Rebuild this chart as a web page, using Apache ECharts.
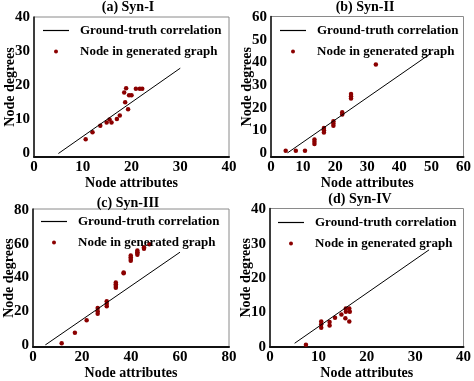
<!DOCTYPE html>
<html><head><meta charset="utf-8">
<script src="https://cdn.jsdelivr.net/npm/echarts@6/dist/echarts.min.js"></script>
<style>html,body{margin:0;padding:0;background:#fff}#c{width:474px;height:381px}</style>
</head><body><div id="c"></div>
<script>
// ---- data ----
const panelTitles = ['(a) Syn-I', '(b) Syn-II', '(c) Syn-III', '(d) Syn-IV'];
const axisMax = [40, 60, 80, 40];
const tickStep = [10, 10, 20, 10];
const lineName = 'Ground-truth correlation';
const dotName = 'Node in generated graph';
const xName = 'Node attributes';
const yName = 'Node degrees';

const synILine = [[5, 0], [30, 25]];
const synIPoints = [[10.6,4.2],[12.0,6.2],[13.6,8.1],[14.9,9.1],[15.5,10.0],[15.9,9.1],[17.0,10.1],[17.6,11.1],
  [18.7,15.0],[19.3,13.0],[18.5,17.9],[18.9,19.1],[19.5,17.1],[20.0,17.1],[20.9,19.0],[21.7,19.0],[22.2,19.0]];

const synIILine = [[5, 0], [49, 44]];
const synIIPoints = [[4.5,1],[7.6,1],[10.4,1],[13.3,4],[13.3,5],[13.3,6],[16.2,9],[16.2,10],[16.2,11],
  [19.1,12],[19.1,13],[19.1,14],[21.8,17],[21.8,18],[24.5,24],[24.5,25],[24.5,26],[32.1,39]];

const synIIILine = [[5, 0], [60, 55]];
const synIIIPoints = [[11.7,1],[17.1,7.3],[21.9,14.6],[26.4,18.5],[26.4,20],[26.4,22],[30.1,23],[30.1,24.5],[30.1,26],
  [33.8,34],[33.8,35],[33.8,36],[33.8,37],[37.0,42.5],[37.0,43],[39.9,50],[39.9,51],[39.9,52],[39.9,53],
  [42.6,53.5],[42.6,54.5],[42.6,55],[42.6,56],[45.3,57],[45.3,58],[47.5,59.7]];

const synIVLine = [[5, 1], [32.3, 28.2]];
const synIVPoints = [[7.3,0.6],[10.4,5.5],[10.4,6.5],[10.4,7.3],[12.1,6.2],[12.1,7.2],[13.2,8.4],[14.5,9.4],
  [15.3,8.3],[15.4,10.2],[15.4,11.1],[16.1,11.1],[16.2,10.2],[16.1,7.3]];

const lines = [synILine, synIILine, synIIILine, synIVLine];
const points = [synIPoints, synIIPoints, synIIIPoints, synIVPoints];

// ---- layout (pixels) ----
const frames = [
  {l: 34, t: 17, r: 229, b: 157, yTop: 17, yZero: 153.5},
  {l: 271, t: 16.5, r: 467, b: 157, yTop: 17, yZero: 153},
  {l: 33, t: 209, r: 229, b: 349, yTop: 210, yZero: 345},
  {l: 270, t: 208.5, r: 467, b: 349, yTop: 209.3, yZero: 346.7}
];
const titlePos = [[128, 0], [365, 0], [128, 196], [360, 192]];
const legendPos = [[43, 24], [280, 24], [41, 215], [278, 216]];

const FONT = "'Liberation Serif', 'Times New Roman', serif";
const txt = (size) => ({fontFamily: FONT, fontWeight: 'bold', fontSize: size, color: '#000'});

const grid = [], xAxis = [], yAxis = [], series = [], title = [], legend = [];
frames.forEach((f, i) => {
  // frame grid
  grid.push({left: f.l, top: f.t, width: f.r - f.l, height: f.b - f.t, show: true,
    borderColor: '#8a8a8a', borderWidth: 1, backgroundColor: 'transparent'});
  // data grid
  grid.push({left: f.l, top: f.yTop, width: f.r - f.l, height: f.yZero - f.yTop});
  xAxis.push({gridIndex: 2*i, type: 'value', min: 0, max: axisMax[i], interval: tickStep[i],
    axisLine: {show: true, lineStyle: {color: '#111', width: 2}}, axisTick: {show: false},
    splitLine: {show: false},
    axisLabel: Object.assign({margin: 3}, txt(15)),
    name: xName, nameLocation: 'middle', nameGap: 16, nameTextStyle: txt(14)});
  xAxis.push({gridIndex: 2*i+1, type: 'value', min: 0, max: axisMax[i], show: false});
  yAxis.push({gridIndex: 2*i, type: 'value', min: 0, max: 1,
    axisLine: {show: true, lineStyle: {color: '#111', width: 1.5}}, axisTick: {show: false},
    splitLine: {show: false}, axisLabel: {show: false},
    name: yName, nameLocation: 'middle', nameGap: 17, nameTextStyle: txt(14)});
  yAxis.push({gridIndex: 2*i+1, type: 'value', min: 0, max: axisMax[i], interval: tickStep[i],
    axisLine: {show: false}, axisTick: {show: false}, splitLine: {show: false},
    axisLabel: Object.assign({margin: 4}, txt(15))});
  series.push({type: 'line', name: lineName, xAxisIndex: 2*i+1, yAxisIndex: 2*i+1,
    data: lines[i], symbol: 'none', lineStyle: {color: '#000', width: 1}, itemStyle: {color: '#000'}, silent: true});
  series.push({type: 'scatter', name: dotName, xAxisIndex: 2*i+1, yAxisIndex: 2*i+1,
    data: points[i], symbolSize: 4.5, itemStyle: {color: '#8b0000', opacity: 1}});
  title.push({text: panelTitles[i], left: titlePos[i][0], top: titlePos[i][1], textAlign: 'center', padding: 0,
    textStyle: txt(14)});
  legend.push({orient: 'vertical', left: legendPos[i][0], top: legendPos[i][1], padding: 0,
    itemWidth: 26, itemHeight: 4, itemGap: 8, selectedMode: false,
    data: [{name: lineName, icon: 'path://M0,0H260V12H0Z'}, {name: dotName, icon: 'circle'}],
    textStyle: Object.assign({padding: [0, 0, 0, 6]}, txt(13))});
});

const chart = echarts.init(document.getElementById('c'), null, {renderer: 'canvas'});
chart.setOption({animation: false, backgroundColor: '#fff', title, legend, grid, xAxis, yAxis, series});
</script></body></html>
